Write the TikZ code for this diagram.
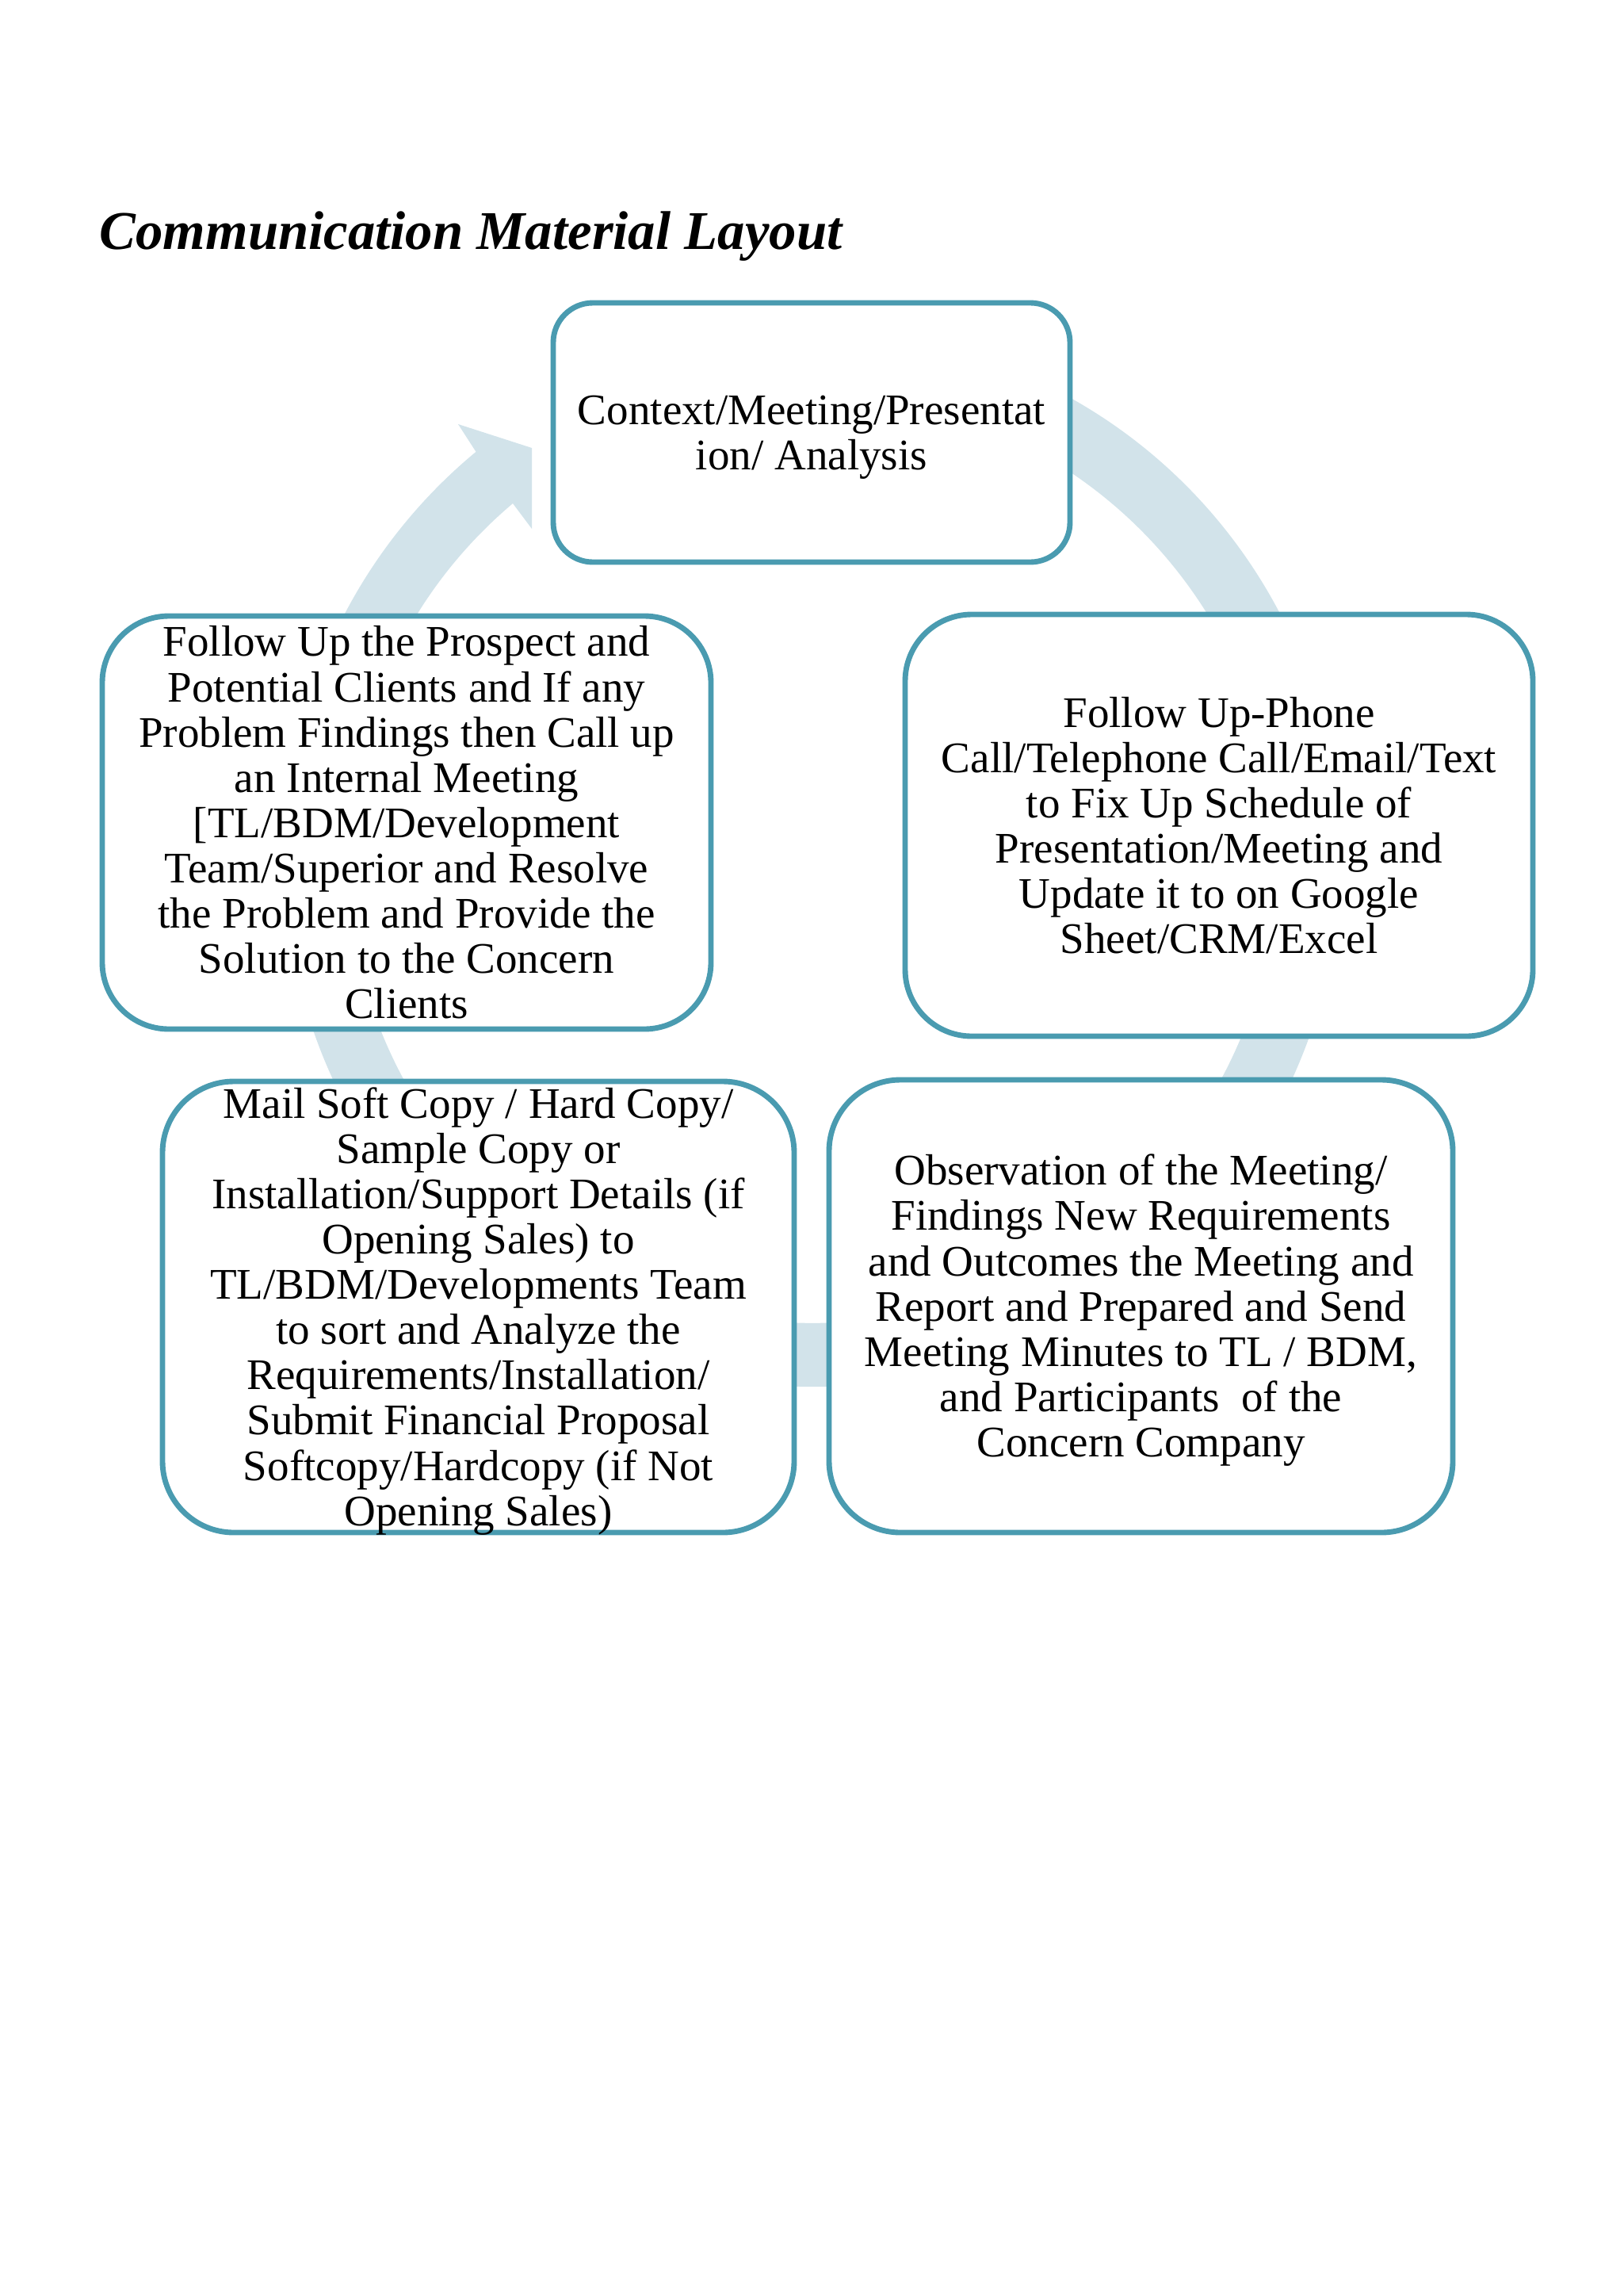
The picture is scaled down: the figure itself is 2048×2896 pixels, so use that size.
\documentclass[tikz,border=0pt]{standalone}
\usepackage{fontspec}
\setmainfont{Liberation Serif}
\usepackage{tikz}

\definecolor{ringblue}{HTML}{D2E3EA}
\definecolor{boxline}{HTML}{4A9BB0}
\newcommand{\px}{0.29067pt}
% 文字整体下移一点
\newcommand{\topgap}[1]{\rule{0pt}{0pt}\\[#1]}
\tikzset{
    stage/.style={draw=boxline, line width=2pt, fill=white, align=center,
        inner sep=0pt, rounded corners=84*\px,
        font=\fontsize{16}{16.6}\selectfont},
}

\begin{document}
\begin{tikzpicture}[x=\px, y=\px]
        \useasboundingbox (0,0) rectangle (2048,-2896);
        % 标题
        \node[anchor=base west, inner sep=0pt,
            font=\fontsize{20}{24}\selectfont\bfseries\itshape]
            (title) at (125,-314) {Communication Material Layout};
        % 背景的圆环箭头
        \begin{scope}[shift={(1025,-1083)}]
            \fill[ringblue] (70:666) arc[start angle=70, end angle=-230.4, radius=666*\px]
                -- (-447,548) -- (-354,518) -- (-354,416) -- (-378,448)
                arc[start angle=-229.84, end angle=70, radius=586*\px] -- cycle;
        \end{scope}
        % 五个步骤
        \node[stage, rounded corners=50*\px, minimum width=652*\px, minimum height=327*\px]
            (context) at (1024,-545.5) {\topgap{-2.5pt}Context/Meeting/Presentat\\ion/ Analysis};
        \node[stage, minimum width=792*\px, minimum height=532*\px]
            (followup) at (1538,-1041) {Follow Up-Phone\\Call/Telephone Call/Email/Text\\to Fix Up Schedule of\\Presentation/Meeting and\\Update it to on Google\\Sheet/CRM/Excel};
        \node[stage, rounded corners=90*\px, minimum width=787*\px, minimum height=571*\px]
            (observe) at (1439.5,-1647.5) {\topgap{-2.3pt}Observation of the Meeting/\\Findings New Requirements\\and Outcomes the Meeting and\\Report and Prepared and Send\\Meeting Minutes to TL / BDM,\\and Participants\ \ of the\\Concern Company};
        \node[stage, rounded corners=90*\px, inner ysep=-4pt, minimum width=797*\px, minimum height=569*\px]
            (mail) at (603.5,-1648.5) {\topgap{-2.3pt}Mail Soft Copy / Hard Copy/\\Sample Copy or\\Installation/Support Details (if\\Opening Sales) to\\TL/BDM/Developments Team\\to sort and Analyze the\\Requirements/Installation/\\Submit Financial Proposal\\Softcopy/Hardcopy (if Not\\Opening Sales)};
        \node[stage, inner ysep=-4pt, minimum width=768*\px, minimum height=521*\px]
            (prospect) at (513,-1037.5) {Follow Up the Prospect and\\Potential Clients and If any\\Problem Findings then Call up\\an Internal Meeting\\{[}TL/BDM/Development\\Team/Superior and Resolve\\the Problem and Provide the\\Solution to the Concern\\Clients};
    \end{tikzpicture}
\end{document}
